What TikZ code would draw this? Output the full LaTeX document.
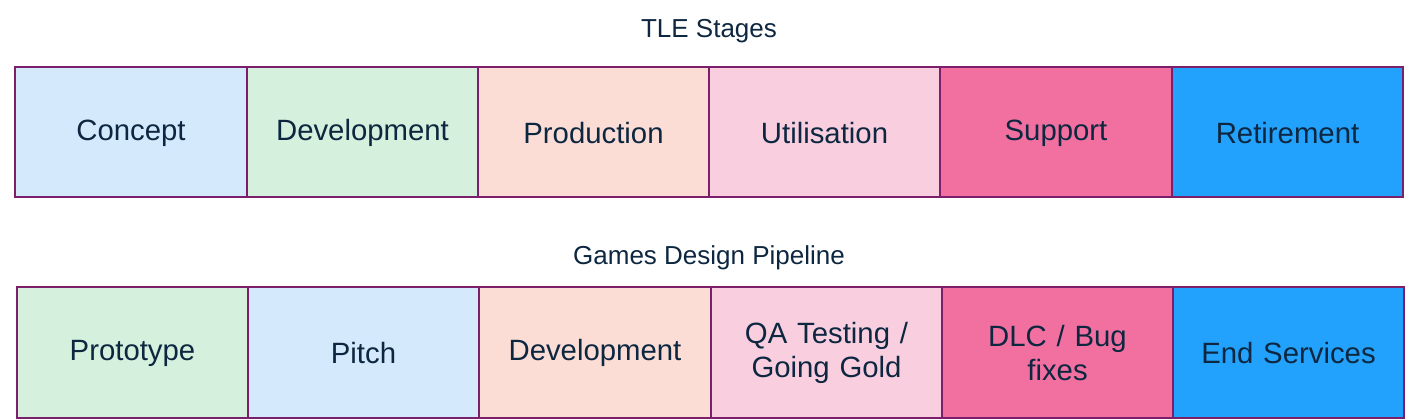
\documentclass[tikz,border=0pt]{standalone}
\usepackage{fontspec}
\setmainfont{Liberation Sans}
\definecolor{txt}{HTML}{0D2740}
\definecolor{edge}{HTML}{7B1F6A}
\definecolor{cblue}{HTML}{D4E9FC}
\definecolor{cgreen}{HTML}{D5F0DC}
\definecolor{cpeach}{HTML}{FBDDD6}
\definecolor{cpink}{HTML}{F9CFE0}
\definecolor{chot}{HTML}{F270A0}
\definecolor{cdeep}{HTML}{22A2FC}
\begin{document}
\begin{tikzpicture}[x=0.75pt,y=-0.75pt,
  cell/.style={draw=edge,line width=1.5pt,text=txt,font=\fontsize{22}{26}\selectfont,align=center,inner sep=0pt,text width=160pt},
  ttl/.style={text=txt,font=\fontsize{19.5}{23}\selectfont}]
\useasboundingbox (0,0) rectangle (1419,420);
\node[ttl] (t1) at (709,31) {TLE Stages};
\node[ttl] (t2) at (709,258) {Games Design Pipeline};
\foreach \x/\y/\c/\t [count=\i] in {15/247/cblue/Concept,247/478/cgreen/Development,478/709/cpeach/Production,709/940/cpink/Utilisation,940/1172/chot/Support,1172/1403/cdeep/Retirement}{
  \filldraw[cell,fill=\c] (\x,67) rectangle (\y,197);
  \node[cell,draw=none] (a\i) at ({(\x+\y)/2},133) {\t};
}
\foreach \x/\y/\c/\t [count=\i] in {17/248/cgreen/Prototype,248/479/cblue/Pitch,479/711/cpeach/Development,711/942/cpink/{QA Testing /\\Going Gold},942/1173/chot/{DLC / Bug\\fixes},1173/1404/cdeep/End Services}{
  \filldraw[cell,fill=\c] (\x,287) rectangle (\y,418);
  \node[cell,draw=none] (b\i) at ({(\x+\y)/2},353) {\t};
}
\end{tikzpicture}
\end{document}
